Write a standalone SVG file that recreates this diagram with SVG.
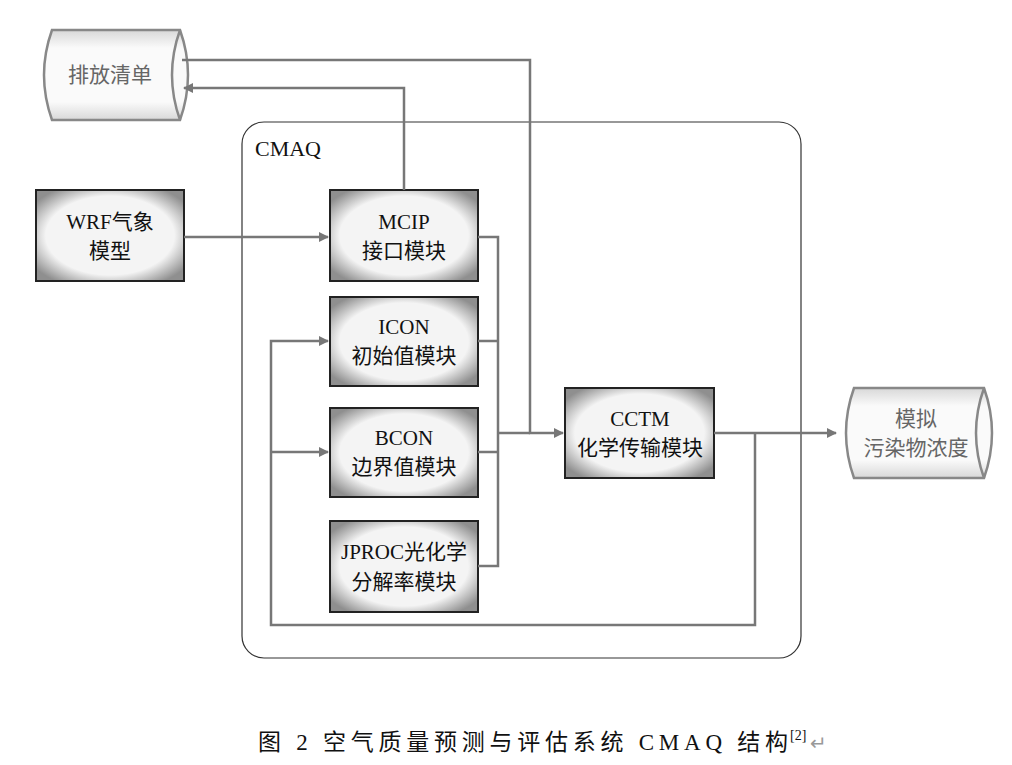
<svg xmlns="http://www.w3.org/2000/svg" width="1012" height="765" viewBox="0 0 1012 765">
<defs>
<radialGradient id="g" cx="50%" cy="50%" r="62%"><stop offset="0.7" stop-color="#f4f4f4"/><stop offset="1" stop-color="#8f8f8f"/></radialGradient>
<linearGradient id="cy" x1="0" y1="0" x2="0" y2="1"><stop offset="0" stop-color="#d8d8d8"/><stop offset="0.2" stop-color="#fafafa"/><stop offset="0.8" stop-color="#fafafa"/><stop offset="1" stop-color="#d8d8d8"/></linearGradient>
<marker id="a" markerWidth="10" markerHeight="10" refX="9" refY="5" orient="auto" markerUnits="userSpaceOnUse"><path d="M0,0 L10,5 L0,10 Z" fill="#777"/></marker>
</defs>
<style>
.box{fill:url(#g);stroke:#222;stroke-width:2}
.cyl{fill:url(#cy);stroke:#888;stroke-width:2.5}
.t{font-family:"Liberation Serif","Noto Sans CJK SC",serif;font-size:21px;text-anchor:middle;fill:#111}
.tg{font-family:"Liberation Serif","Noto Sans CJK SC",serif;font-size:21px;text-anchor:middle;fill:#666}
.c{fill:none;stroke:#777;stroke-width:2.5}
</style>
<rect x="242" y="122" width="559" height="536" rx="22" fill="none" stroke="#333" stroke-width="1.2"/>
<text x="255" y="156" font-family="Liberation Serif,serif" font-size="22" fill="#111">CMAQ</text>
<g id="emission">
<path class="cyl" d="M52,30 L180,30 Q196,75 180,120 L52,120 Q36,75 52,30 Z"/>
<path class="cyl" d="M180,30 Q164,75 180,120" fill="none"/>
<text class="tg" x="110" y="82">排放清单</text>
</g>
<g id="wrf"><rect class="box" x="36" y="190" width="148" height="91"/><text class="t" x="110" y="229">WRF气象</text><text class="t" x="110" y="258">模型</text></g>
<g id="mcip"><rect class="box" x="330" y="190" width="148" height="91"/><text class="t" x="404" y="229">MCIP</text><text class="t" x="404" y="258">接口模块</text></g>
<g id="icon"><rect class="box" x="330" y="297" width="148" height="89"/><text class="t" x="404" y="334">ICON</text><text class="t" x="404" y="363">初始值模块</text></g>
<g id="bcon"><rect class="box" x="330" y="408" width="148" height="89"/><text class="t" x="404" y="445">BCON</text><text class="t" x="404" y="474">边界值模块</text></g>
<g id="jproc"><rect class="box" x="330" y="521" width="148" height="91"/><text class="t" x="404" y="559">JPROC光化学</text><text class="t" x="404" y="589">分解率模块</text></g>
<g id="cctm"><rect class="box" x="565" y="388" width="149" height="90"/><text class="t" x="640" y="426">CCTM</text><text class="t" x="640" y="455">化学传输模块</text></g>
<g id="output">
<path class="cyl" d="M854,388 L984,388 Q1000,433 984,478 L854,478 Q838,433 854,388 Z"/>
<path class="cyl" d="M984,388 Q968,433 984,478" fill="none"/>
<text class="tg" x="916" y="426">模拟</text><text class="tg" x="916" y="455">污染物浓度</text>
</g>
<g id="connectors">
<path class="c" d="M182,60 H530 V433 H563" marker-end="url(#a)"/>
<path class="c" d="M404,190 V88 H184" marker-end="url(#a)"/>
<path class="c" d="M184,237 H328" marker-end="url(#a)"/>
<path class="c" d="M478,237 H498 V566 H478 M478,341 H498 M478,452 H498 M498,433 H530"/>
<path class="c" d="M714,433 H836" marker-end="url(#a)"/>
<path class="c" d="M755,433 V625 H271 V341 H328" marker-end="url(#a)"/>
<path class="c" d="M271,452 H328" marker-end="url(#a)"/>
</g>
<text x="258" y="750" font-family="Liberation Serif,Noto Sans CJK SC,serif" font-size="23" fill="#111" textLength="530" lengthAdjust="spacing">图 2 空气质量预测与评估系统 CMAQ 结构</text>
<text x="790" y="740" font-family="Liberation Serif,serif" font-size="14" fill="#111">[2]</text>
<text x="810" y="750" font-family="Liberation Serif,DejaVu Sans,serif" font-size="20" fill="#999">↵</text>
</svg>
